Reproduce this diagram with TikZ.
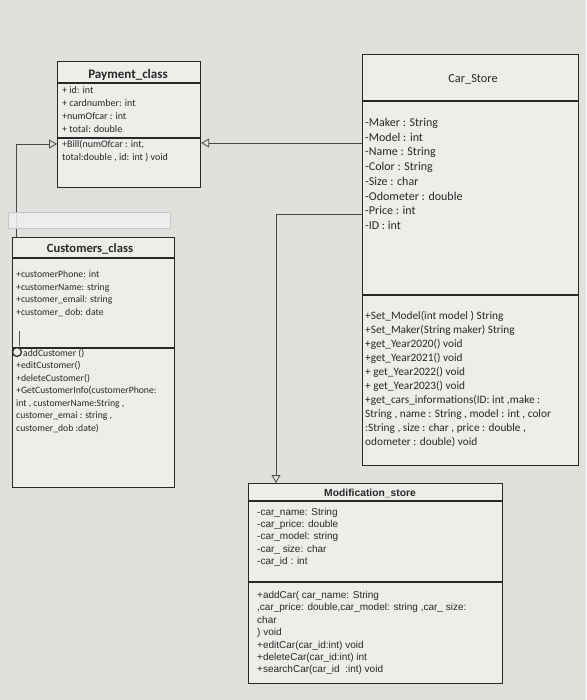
\documentclass[tikz,border=0pt]{standalone}
\usepackage{fontspec}
\setmainfont{Carlito}
\newfontfamily\arialfont{Liberation Sans}
\usetikzlibrary{arrows.meta}

\definecolor{paper}{RGB}{224,224,221}
\definecolor{sheet}{RGB}{237,237,234}
\definecolor{ink}{RGB}{40,40,40}

\tikzset{
  classbox/.style={draw=ink, line width=1.2pt, fill=sheet, anchor=north west, inner sep=0pt},
  divider/.style={draw=ink, line width=1.2pt},
  classname/.style={text=ink, inner sep=0pt},
  members/.style={anchor=north west, inner sep=0pt, align=left, text=ink},
  inherit/.style={draw=ink!85, line width=0.8pt, -{Triangle[open,length=8pt,width=9pt]}},
}

\begin{document}
\begin{tikzpicture}[x=1pt,y=-1pt]

    \fill[paper] (0,0) rectangle (586,700);
    \useasboundingbox (0,0) rectangle (586,700);

    % class boxes
    \node[classbox, minimum width=143pt, minimum height=126pt] (pay) at (57,61) {};
    \node[classbox, minimum width=162pt, minimum height=250pt] (cust) at (12,237) {};
    \node[classbox, minimum width=216pt, minimum height=411pt] (cs) at (362,54) {};
    \node[classbox, minimum width=254pt, minimum height=200pt] (mod) at (248,483) {};

    \draw[divider] (pay.west |- 0,83) -- (pay.east |- 0,83);
    \draw[divider] (pay.west |- 0,138) -- (pay.east |- 0,138);
    \draw[divider] (cust.west |- 0,258) -- (cust.east |- 0,258);
    \draw[divider] (cust.west |- 0,348) -- (cust.east |- 0,348);
    \draw[divider] (cs.west |- 0,101) -- (cs.east |- 0,101);
    \draw[divider] (cs.west |- 0,295) -- (cs.east |- 0,295);
    \draw[divider] (mod.west |- 0,501) -- (mod.east |- 0,501);
    \draw[divider] (mod.west |- 0,582) -- (mod.east |- 0,582);

    % names
    \node[classname, font=\bfseries\fontsize{13}{15}\selectfont] (paytitle) at (128,75) {Payment\_class};
    \node[classname, font=\bfseries\fontsize{12.6}{15}\selectfont] (custtitle) at (90,249) {Customers\_class};
    \node[classname, font=\fontsize{12.3}{15}\selectfont] (cstitle) at (473,79) {Car\_Store};
    \node[classname, font=\arialfont\bfseries\fontsize{10.3}{12}\selectfont] (modtitle) at (370,493) {Modification\_store};

    % members
    \node[members, font=\fontsize{10}{13}\selectfont] (payattr) at (62,86) {+ id: int\\+ cardnumber: int\\+numOfcar : int\\+ total: double};
    \node[members, font=\fontsize{10}{13}\selectfont] (payops) at (62,140) {+Bill(numOfcar : int,\\total:double , id: int ) void};

    \node[members, font=\fontsize{9.7}{12.5}\selectfont] (custattr) at (16,271) {+customerPhone: int\\+customerName: string\\+customer\_email: string\\+customer\_ dob: date};
    \node[members, font=\fontsize{9.7}{12.5}\selectfont] (custops) at (16,349) {\hspace*{7pt}addCustomer ()\\+editCustomer()\\+deleteCustomer()\\+GetCustomerInfo(customerPhone:\\int , customerName:String ,\\customer\_emai : string ,\\customer\_dob :date)};

    \node[members, font=\fontsize{12}{14.7}\selectfont] (csattr) at (365,118) {-Maker : String\\-Model : int\\-Name : String\\-Color : String\\-Size : char\\-Odometer : double\\-Price : int\\-ID : int};
    \node[members, font=\fontsize{11.3}{14}\selectfont] (csops) at (365,311) {+Set\_Model(int model ) String\\+Set\_Maker(String maker) String\\+get\_Year2020() void\\+get\_Year2021() void\\+ get\_Year2022() void\\+ get\_Year2023() void\\+get\_cars\_informations(ID: int ,make :\\String ,\ name : String , model : int , color\\:String\ , size : char\ , price : double\ ,\\odometer : double) void};

    \node[members, font=\arialfont\fontsize{10}{12.2}\selectfont] (modattr) at (257,508) {-car\_name: String\\-car\_price: double\\-car\_model: string\\-car\_ size: char\\-car\_id : int};
    \node[members, font=\arialfont\fontsize{10}{12.4}\selectfont] (modops) at (257,591) {+addCar( car\_name: String\\,car\_price: double,car\_model: string ,car\_ size:\\char\\) void\\+editCar(car\_id:int) void\\+deleteCar(car\_id:int) int\\+searchCar(car\_id\ \ :int) void};

    % connectors
    \draw[inherit] (cs.west |- 0,143) -- (pay.east |- 0,143);
    \draw[inherit] ([xshift=4pt]cust.north west) |- (pay.west |- 0,144);
    \draw[inherit] (cs.west |- 0,214) -| ([xshift=28pt]mod.north west);

    \draw[draw=gray!45, fill=gray!12, fill opacity=0.85] (8,212) rectangle (170,228);

    \draw[ink!80, line width=0.8pt] (19,331) -- (19,346);
    \draw[ink, line width=1.2pt, fill=sheet] (17,352) circle (4.5);

\end{tikzpicture}
\end{document}
